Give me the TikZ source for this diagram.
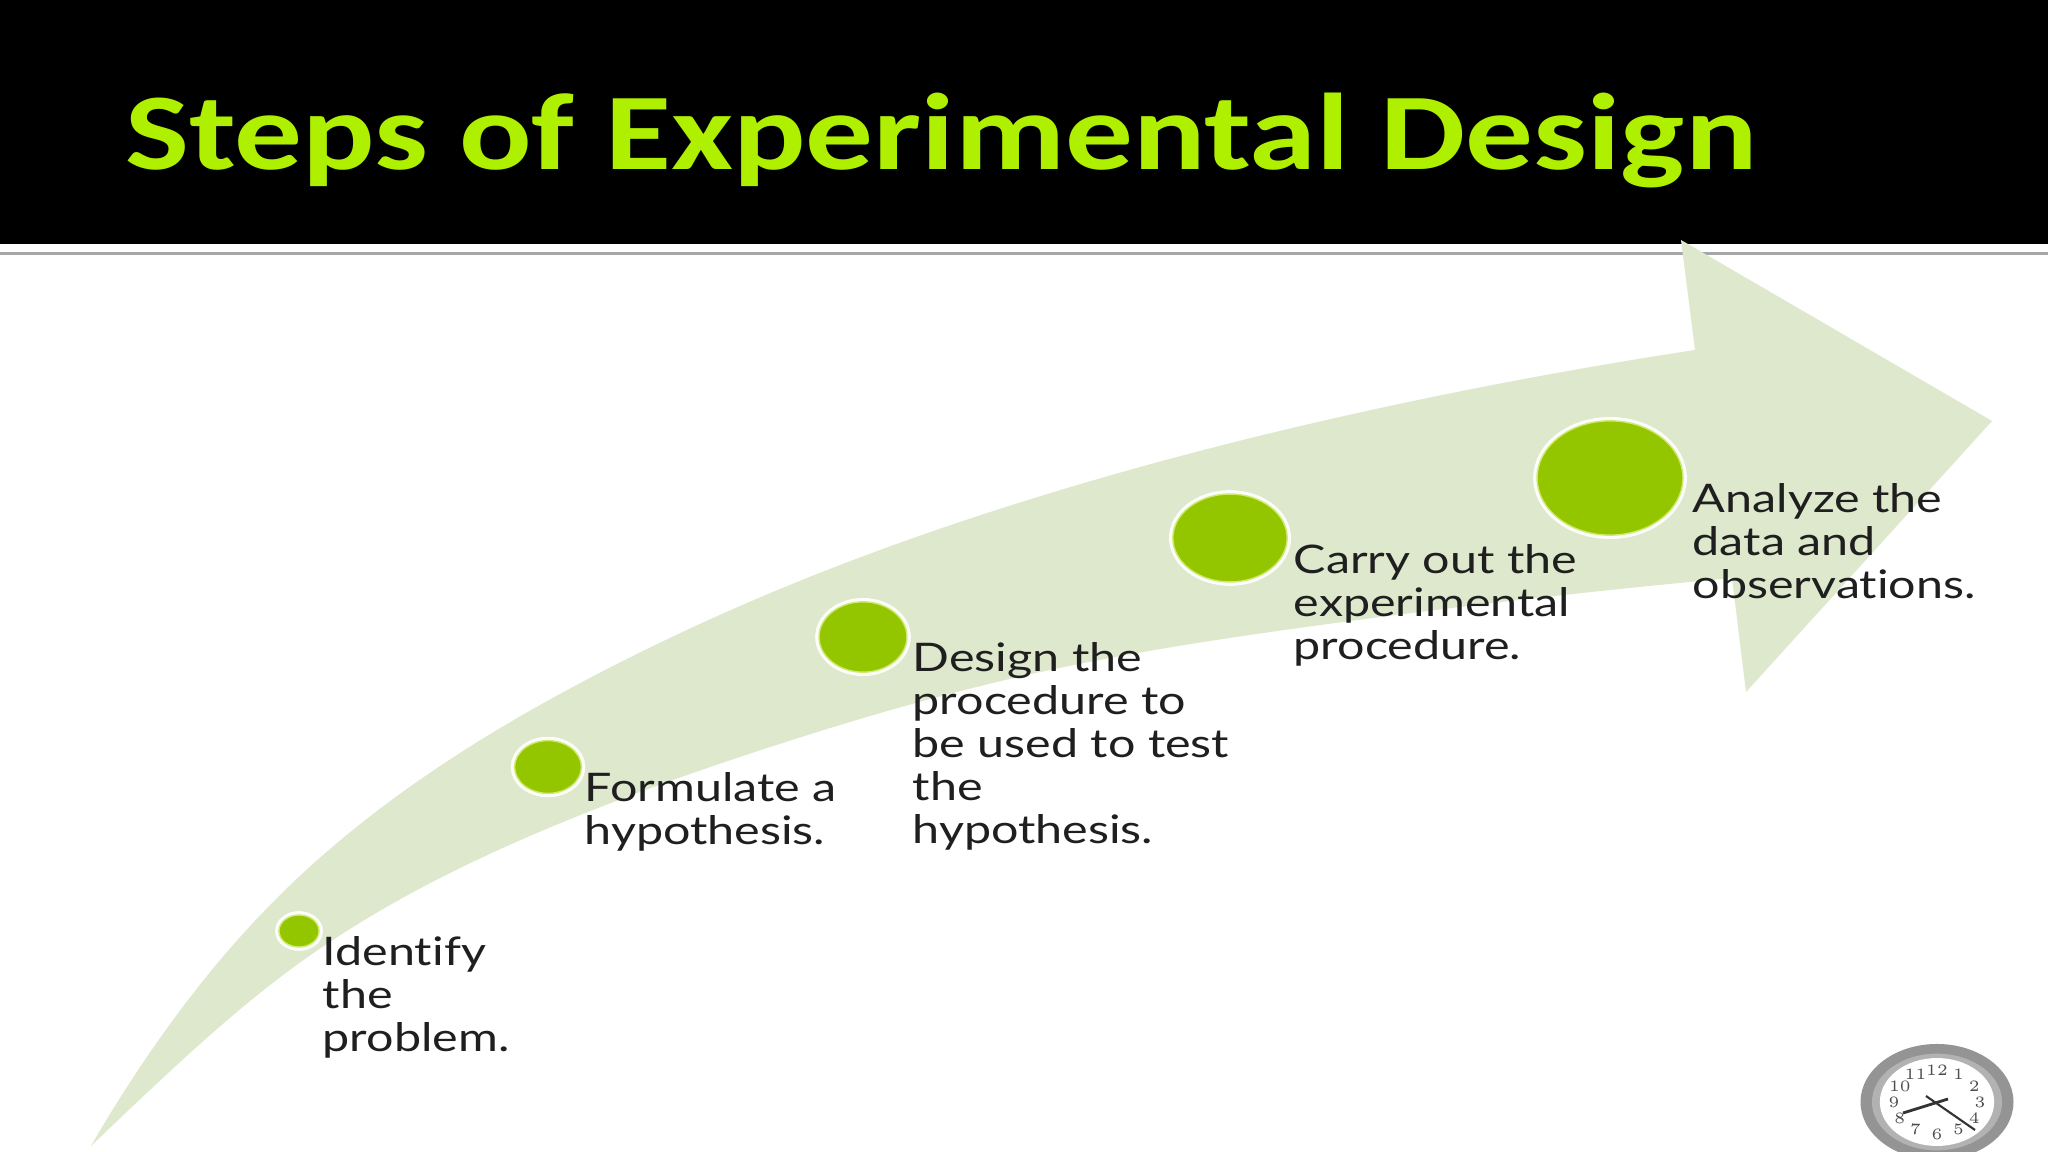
\documentclass[tikz,border=0pt]{standalone}
\usepackage{fontspec}
\newfontfamily\stepfont[FakeStretch=1.23,Ligatures=NoCommon]{Lato}
\newfontfamily\titlefont[FakeStretch=1.24]{Carlito}
\definecolor{bandgreen}{HTML}{AEF000}
\definecolor{arrowgreen}{HTML}{DEE8CC}
\definecolor{dotgreen}{HTML}{94C600}
\definecolor{ringgreen}{HTML}{CDE96E}
\usetikzlibrary{shapes.geometric, hobby}

\begin{document}
\begin{tikzpicture}[x=0.01cm,y=-0.01cm,
                    dot node/.style={ellipse,draw=ringgreen,line width=0.4pt,fill=dotgreen,inner sep=0pt,preaction={draw=white!92!arrowgreen,line width=2.2pt}},
                    step node/.style={anchor=north west,inner sep=0pt,align=left,text=black!88,font=\stepfont\fontsize{11.2}{12.2}\selectfont},
                    clock num/.style={inner sep=0pt,text=black!70,font=\fontsize{4.5}{5}\selectfont}]

  \useasboundingbox (0,0) rectangle (2048,1152);
  \fill[white] (0,0) rectangle (2048,1152);

  % title band
  \fill[black] (0,0) rectangle (2048,244);
  \fill[black!35] (0,252) rectangle (2048,255);
  \node[anchor=base west,inner sep=0pt,text=bandgreen,font=\titlefont\bfseries\fontsize{31}{31}\selectfont] (title) at (125,170) {Steps of Experimental Design};

  % big arrow
  \fill[arrowgreen,use Hobby shortcut] (91,1146) .. (151,1051) .. (277,898) .. (411,786) .. (586,680) .. (761,597) .. (1028,500) .. (1418,400) .. (1695,350)
    [use Hobby shortcut=false] -- (1681,240) -- (1992,421) -- (1746,692) -- (1732,578)
    [use Hobby shortcut] .. (1306,627) .. (1036,673) .. (761,750) .. (551,827) .. (298,964) .. (151,1089) .. (91,1146) -- cycle;

  % circles
  \node[dot node,minimum width=11.4pt,minimum height=9.1pt] (1) at (299,931) {};
  \node[dot node,minimum width=19pt,minimum height=15pt] (2) at (548,767) {};
  \node[dot node,minimum width=25pt,minimum height=20pt] (3) at (863,637) {};
  \node[dot node,minimum width=32.5pt,minimum height=25pt] (4) at (1230,538) {};
  \node[dot node,minimum width=41.5pt,minimum height=32.5pt] (5) at (1610,478) {};

  % step texts
  \node[step node] (1a) at (322,936) {Identify\\the\\problem.};
  \node[step node] (2a) at (584,772) {Formulate a\\hypothesis.};
  \node[step node] (3a) at (912,642) {Design the\\procedure to\\be used to test\\the\\hypothesis.};
  \node[step node] (4a) at (1293,544) {Carry out the\\experimental\\procedure.};
  \node[step node] (5a) at (1692,483) {Analyze the\\data and\\observations.};

  % clock
  \node[ellipse,fill=black!42,inner sep=0pt,minimum width=43.5pt,minimum height=33pt] (rim) at (1937,1102) {};
  \node[ellipse,fill=black!30,inner sep=0pt,minimum width=37pt,minimum height=27.5pt] (rim2) at (1937,1102) {};
  \node[ellipse,fill=white,inner sep=0pt,minimum width=32.5pt,minimum height=25pt] (face) at (1937,1102) {};
  \foreach \h in {1,...,12}
    \node[clock num] (h\h) at ({1937+43*sin(30*\h)},{1102-32*cos(30*\h)}) {\h};
  \coordinate (hand1) at (1948,1099);
  \coordinate (hand2) at (1903,1113);
  \coordinate (hand3) at (1926,1096);
  \coordinate (hand4) at (1975,1130);
  \draw[black!80,line width=0.8pt] (hand1) -- (hand2);
  \draw[black!80,line width=0.6pt] (hand3) -- (hand4);

\end{tikzpicture}
\end{document}
